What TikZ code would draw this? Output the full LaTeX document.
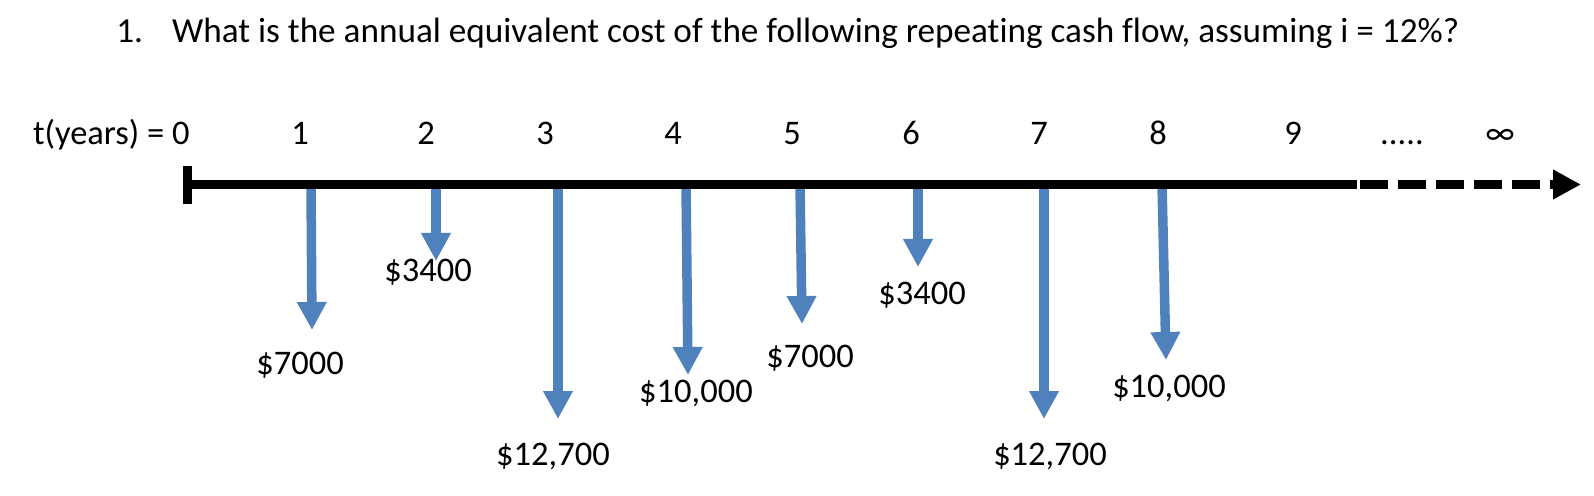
\documentclass[tikz,border=0pt]{standalone}
\usepackage{fontspec}
\setmainfont[Ligatures=NoCommon]{Carlito}
\usetikzlibrary{arrows.meta}
\definecolor{flowblue}{RGB}{79,129,189}
\begin{document}
\begin{tikzpicture}[x=0.5pt,y=-0.5pt,
  lbl/.style={inner sep=0pt, anchor=base, font=\fontsize{17.25}{20}\selectfont},
  flow/.style={draw=flowblue, line width=4.75pt, -{Triangle[width=14pt,length=14pt]}},
  axisline/.style={line width=4.5pt, black}]
\useasboundingbox (0,0) rectangle (1594,496);
% title
\node[lbl, anchor=base west, font=\fontsize{17.6}{20}\selectfont] (title) at (116,43) {1.\hspace{14.5pt}What is the annual equivalent cost of the following repeating cash flow, assuming i = 12\%?};
% time labels
\node[lbl, anchor=base east] (t0) at (190,145) {t(years) = 0};
\node[lbl] (t1) at (300,145) {1};
\node[lbl] (t2) at (426,145) {2};
\node[lbl] (t3) at (545,145) {3};
\node[lbl] (t4) at (673,145) {4};
\node[lbl] (t5) at (792,145) {5};
\node[lbl] (t6) at (911,145) {6};
\node[lbl] (t7) at (1039,145) {7};
\node[lbl] (t8) at (1158,145) {8};
\node[lbl] (t9) at (1293,145) {9};
\node[lbl] (tdots) at (1402,145) {.....};
\node[lbl] (tinf) at (1500,145) {∞};
% axis coordinates
\coordinate (ax0) at (183,184.5);
\coordinate (axs) at (1357,184.5);
\coordinate (dstart) at (1360,184.5);
\coordinate (axe) at (1581,184.5);
\coordinate (tickt) at (187.5,166);
\coordinate (tickb) at (187.5,204);
% cash flow arrows
\coordinate (a1) at (311,184); \coordinate (b1) at (312,330);
\coordinate (a2) at (436,184); \coordinate (b2) at (436,261);
\coordinate (a3) at (558,184); \coordinate (b3) at (558,419);
\coordinate (a4) at (686,184); \coordinate (b4) at (688,375);
\coordinate (a5) at (800,184); \coordinate (b5) at (802,324);
\coordinate (a6) at (918,184); \coordinate (b6) at (918,267);
\coordinate (a7) at (1044,184); \coordinate (b7) at (1044,419);
\coordinate (a8) at (1162,184); \coordinate (b8) at (1166,360);
\foreach \i in {1,...,8} {\draw[flow] (a\i) -- (b\i);}
% axis
\draw[axisline] (ax0) -- (axs);
\draw[axisline] (tickt) -- (tickb);
\draw[axisline, dash pattern=on 14pt off 5pt, -{Triangle[width=14pt,length=14pt]}] (dstart) -- (axe);
% amounts
\node[lbl] (v1) at (300,374) {\$7000};
\node[lbl] (v2) at (428,282) {\$3400};
\node[lbl] (v3) at (553,465) {\$12,700};
\node[lbl] (v4) at (696,402) {\$10,000};
\node[lbl] (v5) at (810,367) {\$7000};
\node[lbl] (v6) at (922,305) {\$3400};
\node[lbl] (v7) at (1050,465) {\$12,700};
\node[lbl] (v8) at (1169,397) {\$10,000};
\end{tikzpicture}
\end{document}
